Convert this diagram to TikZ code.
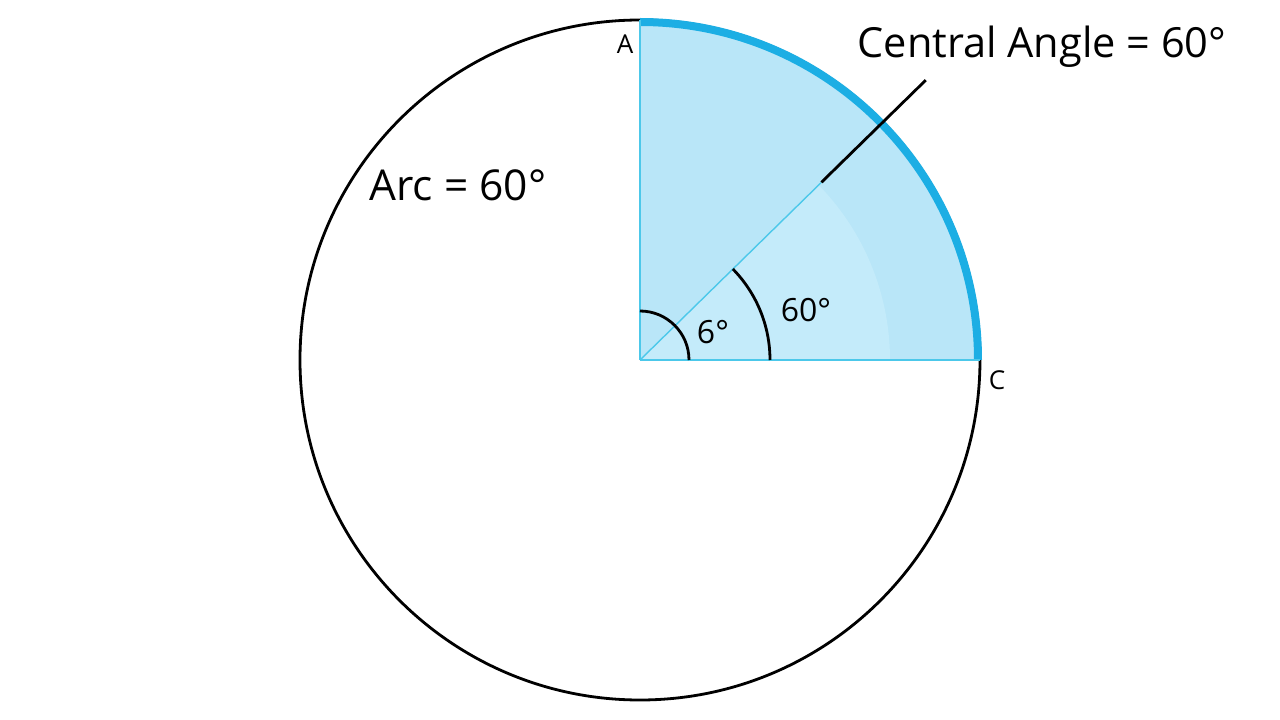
\documentclass[tikz,border=0pt]{standalone}
\usepackage{fontspec}
\setmainfont{Open Sans}
\begin{document}
\begin{tikzpicture}[x=1pt,y=1pt,
  lbl/.style={inner sep=0pt, font=\fontsize{41.5}{44}\selectfont},
  lblb/.style={inner sep=0pt, font=\fontsize{42.5}{46}\selectfont},
  anglbl/.style={inner sep=0pt, font=\fontsize{32}{36}\selectfont},
  ptlbl/.style={inner sep=0pt, font=\fontsize{26}{30}\selectfont},
  thinline/.style={draw=linecyan, line width=1.4pt},
  anglearc/.style={draw=black, line width=2.8pt}
]
\definecolor{sectorfill}{HTML}{B9E6F8}
\definecolor{innerfill}{HTML}{C4EBFA}
\definecolor{arcblue}{HTML}{1CAEE4}
\definecolor{linecyan}{HTML}{4CC8EA}
\useasboundingbox (-640,-360) rectangle (640,360);
\fill[white] (-640,-360) rectangle (640,360);
\coordinate (O) at (0,0);
\coordinate (A) at (90:340);
\coordinate (Cp) at (0:340);
\coordinate (M) at (44.4:254);
\coordinate (L) at (44.4:400);
% sector
\fill[sectorfill] (O) -- (Cp) arc[start angle=0,end angle=90,radius=340] -- cycle;
\fill[innerfill] (O) -- (0:250) arc[start angle=0,end angle=44.4,radius=250] -- cycle;
% circle
\draw[black, line width=2.8pt] (O) circle[radius=340];
% thick arc
\draw[arcblue, line width=8pt] (0:338) arc[start angle=0,end angle=90,radius=338];
% thin lines
\draw[thinline] (O) -- (A);
\draw[thinline] (O) -- (Cp);
\draw[thinline] (O) -- (M);
% leader
\draw[black, line width=2.8pt] (M) -- (L);
% angle arcs
\draw[anglearc] (0:49) arc[start angle=0,end angle=90,radius=49];
\draw[anglearc] (0:130) arc[start angle=0,end angle=44.4,radius=130];
% labels
\node[anglbl] (six) at (73,28) {6°};
\node[anglbl] (sixty) at (166,50) {60°};
\node[ptlbl] (la) at (-15,316) {A};
\node[ptlbl] (lc) at (357,-20) {C};
\node[lbl] (central) at (402,313) {Central Angle = 60°};
\node[lblb] (arc) at (-182,175) {Arc = 60°};
\end{tikzpicture}
\end{document}
